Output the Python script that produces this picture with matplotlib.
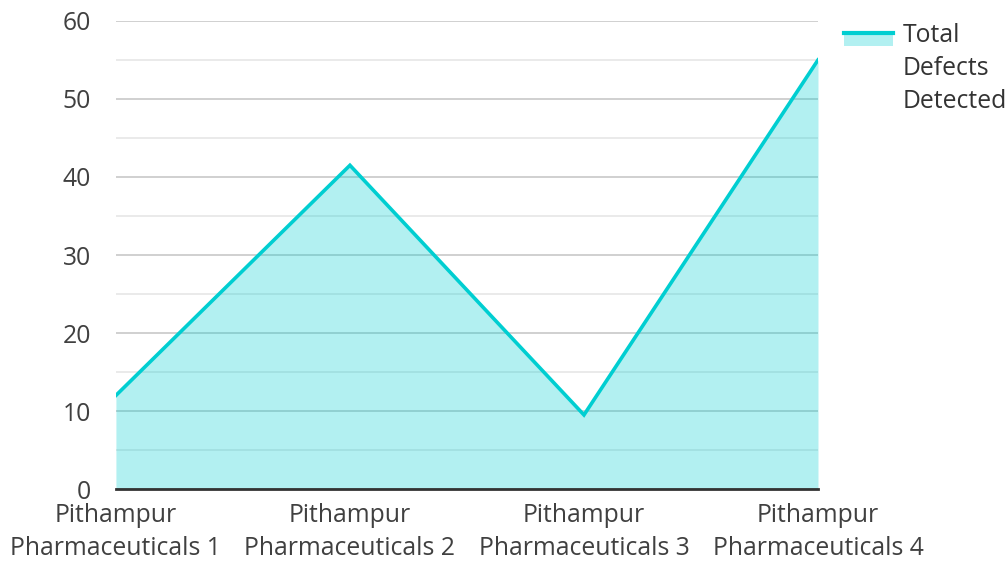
import matplotlib
matplotlib.use("Agg")
import matplotlib.pyplot as plt
from matplotlib.legend_handler import HandlerBase
from matplotlib.patches import Rectangle
from matplotlib.lines import Line2D
from matplotlib.ticker import MultipleLocator

categories = ["Pithampur\nPharmaceuticals 1", "Pithampur\nPharmaceuticals 2",
              "Pithampur\nPharmaceuticals 3", "Pithampur\nPharmaceuticals 4"]
defects = [12, 41.5, 9.5, 55]
series_name = "Total\nDefects\nDetected"

LINE = "#00CED1"
TEXT = "#404040"
FS = 17.8

plt.rcParams.update({
    "font.family": ["Open Sans", "DejaVu Sans"],
    "font.size": FS,
})


class AreaHandler(HandlerBase):
    # line on top edge of a light filled box, aligned to the first text line
    def create_artists(self, legend, orig_handle, xdescent, ydescent,
                       width, height, fontsize, trans):
        top = -ydescent + height + 20
        rect = Rectangle((-xdescent, top - 9), width, 9,
                         facecolor=LINE, alpha=0.3, edgecolor="none", transform=trans)
        line = Line2D([-xdescent, -xdescent + width], [top, top],
                      color=LINE, linewidth=3, transform=trans)
        return [rect, line]


fig = plt.figure(figsize=(10.08, 5.61), dpi=100)
ax = fig.add_axes([0.115, 0.1283, 0.6965, 0.8343])

x = range(len(categories))
ax.fill_between(x, defects, 0, color=LINE, alpha=0.3, linewidth=0, zorder=3)
ax.plot(x, defects, color=LINE, linewidth=2.6, zorder=4, solid_joinstyle="miter")

ax.set_xlim(0, len(categories) - 1)
ax.set_ylim(0, 60)
ax.yaxis.set_major_locator(MultipleLocator(10))
ax.yaxis.set_minor_locator(MultipleLocator(5))
ax.grid(axis="y", which="major", color="#c8c8c8", linewidth=1.2, zorder=1)
ax.grid(axis="y", which="minor", color="#e6e6e6", linewidth=1.2, zorder=1)
ax.set_axisbelow(True)

ax.set_xticks(list(x))
ax.set_xticklabels(categories, linespacing=1.4)
ax.tick_params(axis="both", which="both", length=0, colors=TEXT, labelsize=FS)
ax.tick_params(axis="y", pad=18)
ax.tick_params(axis="x", pad=10)

for s in ["top", "right", "left"]:
    ax.spines[s].set_visible(False)
ax.spines["bottom"].set_color("#333333")
ax.spines["bottom"].set_linewidth(2)
ax.spines["bottom"].set_zorder(5)

handle = Rectangle((0, 0), 1, 1)
leg = fig.legend([handle], [series_name], handler_map={Rectangle: AreaHandler()},
                 loc="upper left", bbox_to_anchor=(0.827, 0.976), frameon=False,
                 handlelength=2.0, handletextpad=0.4, fontsize=FS, borderaxespad=0)
for t in leg.get_texts():
    t.set_color("#333333")
    t.set_linespacing(1.42)

fig.savefig("out.png", dpi=100)
